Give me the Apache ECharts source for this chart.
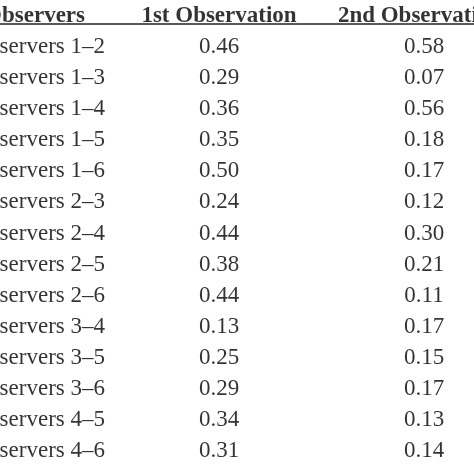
<!DOCTYPE html>
<html>
<head>
<meta charset="utf-8">
<script src="https://cdn.jsdelivr.net/npm/echarts@6/dist/echarts.min.js"></script>
<style>html,body{margin:0;padding:0;background:#fff}#c{width:474px;height:474px}</style>
</head>
<body>
<div id="c"></div>
<script>
var headers = ['Observers', '1st Observation', '2nd Observation'];
var pairs = ['Observers 1–2','Observers 1–3','Observers 1–4','Observers 1–5','Observers 1–6','Observers 2–3','Observers 2–4','Observers 2–5','Observers 2–6','Observers 3–4','Observers 3–5','Observers 3–6','Observers 4–5','Observers 4–6'];
var first = ['0.46','0.29','0.36','0.35','0.50','0.24','0.44','0.38','0.44','0.13','0.25','0.29','0.34','0.31'];
var second = ['0.58','0.07','0.56','0.18','0.17','0.12','0.30','0.21','0.11','0.17','0.15','0.17','0.13','0.14'];

var rows = ['h'].concat(pairs);
var font = 'Liberation Serif';
function col(x, texts, align, headAlign) {
  return {
    type: 'scatter', symbolSize: 0, silent: true,
    data: rows.map(function (r, i) {
      var head = i === 0;
      return {
        value: [x, r],
        label: {
          show: true, position: 'inside', color: '#000', fontFamily: font, fontSize: 23,
          fontWeight: head ? 'bold' : 'normal',
          align: align, offset: head && headAlign ? headAlign : [0, 0],
          formatter: head ? headers[texts] : [pairs, first, second][texts][i - 1]
        }
      };
    })
  };
}
var chart = echarts.init(document.getElementById('c'));
chart.setOption({
  animation: false,
  grid: { left: 0, right: 0, top: -5, height: 472 },
  xAxis: { type: 'value', min: 0, max: 474, show: false },
  yAxis: { type: 'category', data: rows, inverse: true, show: false },
  series: [col(105, 0, 'right', [-20, 0]), col(219, 1, 'center'), col(424, 2, 'center', [-4, 0])],
  graphic: [{ type: 'line', shape: { x1: 0, y1: 24, x2: 474, y2: 24 }, style: { stroke: '#222', lineWidth: 1.5 } }]
});
</script>
</body>
</html>
